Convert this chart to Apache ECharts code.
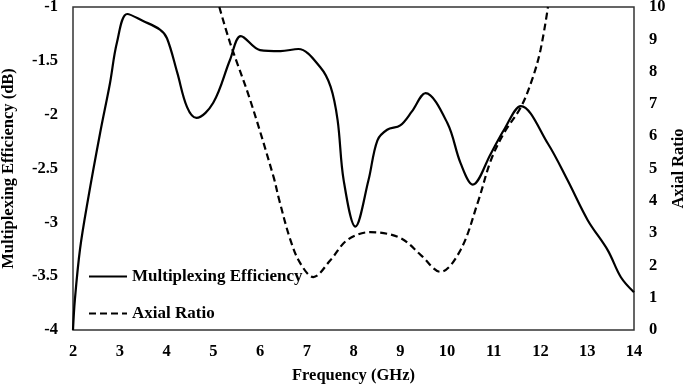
<!DOCTYPE html>
<html>
<head>
<meta charset="utf-8">
<script src="https://cdn.jsdelivr.net/npm/echarts@6/dist/echarts.min.js"></script>
<style>
  html, body { margin: 0; padding: 0; background: #fff; }
  #chart { width: 685px; height: 384px; }
</style>
</head>
<body>
<div id="chart"></div>
<script>
// 多路复用效率 (dB)
const effFreq = [2.0, 2.04, 2.15, 2.32, 2.58, 2.79, 2.94, 3.16, 3.5, 3.86, 4.01, 4.23, 4.44, 4.64, 5.0, 5.36, 5.59, 6.0, 6.44, 6.82, 7.29, 7.51, 7.66, 7.79, 8.04, 8.32, 8.51, 8.72, 9.0, 9.25, 9.54, 10.01, 10.29, 10.55, 10.94, 11.22, 11.58, 12.16, 12.58, 13.01, 13.44, 13.72, 14.0];
const effVals = [-4.0, -3.72, -3.25, -2.79, -2.17, -1.71, -1.33, -1.065, -1.13, -1.21, -1.29, -1.61, -1.93, -2.03, -1.89, -1.49, -1.27, -1.40, -1.41, -1.39, -1.56, -1.74, -2.05, -2.61, -3.04, -2.61, -2.24, -2.14, -2.10, -1.97, -1.80, -2.08, -2.45, -2.65, -2.36, -2.14, -1.92, -2.27, -2.61, -2.98, -3.26, -3.51, -3.65];

// 轴比
const arFreq = [5.13, 5.36, 5.79, 6.29, 6.41, 6.65, 6.86, 7.14, 7.51, 7.87, 8.36, 9.0, 9.44, 9.86, 10.29, 10.67, 10.94, 11.22, 11.58, 11.82, 12.0, 12.16];
const arVals = [10, 8.89, 7.12, 4.74, 4.03, 2.79, 2.07, 1.64, 2.17, 2.79, 3.03, 2.85, 2.32, 1.80, 2.48, 4.0, 5.26, 6.1, 6.9, 7.75, 8.67, 10];

const names = ['Multiplexing Efficiency', 'Axial Ratio'];

const font = 'Liberation Serif, Times New Roman, serif';
const txt = { color: '#000', fontFamily: font, fontWeight: 'bold', fontSize: 16.5 };

let chart = echarts.init(document.querySelector('#chart'));

let option = {
    animation: false,
    grid: {
        left: 73,
        right: 51,
        top: 7,
        bottom: 54,
        containLabel: false,
        outerBoundsMode: 'none',
        show: true,
        borderColor: '#333',
        borderWidth: 1.5
    },
    legend: {
        orient: 'vertical',
        left: 83,
        top: 263,
        itemWidth: 38,
        itemHeight: 14,
        itemGap: 20,
        data: names,
        // 只画线，不画圆点
        itemStyle: { opacity: 0 },
        textStyle: { color: '#000', fontFamily: font, fontWeight: 'bold', fontSize: 17 }
    },
    xAxis: {
        type: 'value',
        min: 2,
        max: 14,
        interval: 1,
        name: 'Frequency (GHz)',
        nameLocation: 'middle',
        nameGap: 37,
        nameTextStyle: txt,
        axisLine: { show: false },
        axisTick: { show: false },
        splitLine: { show: false },
        axisLabel: Object.assign({ margin: 13 }, txt)
    },
    yAxis: [
        {
            type: 'value',
            min: -4,
            max: -1,
            interval: 0.5,
            name: 'Multiplexing Efficiency (dB)',
            nameLocation: 'middle',
            nameRotate: 90,
            nameGap: 56,
            nameMoveOverlap: false,
            nameTextStyle: txt,
            axisLine: { show: false },
            axisTick: { show: false },
            splitLine: { show: false },
            axisLabel: Object.assign({ margin: 15 }, txt)
        },
        {
            type: 'value',
            position: 'right',
            min: 0,
            max: 10,
            interval: 1,
            name: 'Axial Ratio',
            nameLocation: 'middle',
            nameRotate: 90,
            nameGap: 36,
            nameMoveOverlap: false,
            nameTextStyle: txt,
            axisLine: { show: false },
            axisTick: { show: false },
            splitLine: { show: false },
            axisLabel: Object.assign({ margin: 15 }, txt)
        }
    ],
    series: [
        {
            name: names[0],
            type: 'line',
            yAxisIndex: 0,
            smooth: 0.35,
            showSymbol: false,
            symbol: 'none',
            lineStyle: { color: '#000', width: 2.2 },
            itemStyle: { color: '#000' },
            data: effFreq.map((f, i) => [f, effVals[i]])
        },
        {
            name: names[1],
            type: 'line',
            yAxisIndex: 1,
            smooth: 0.35,
            showSymbol: false,
            symbol: 'none',
            lineStyle: { color: '#000', width: 2.2, type: [7, 4] },
            itemStyle: { color: '#000' },
            data: arFreq.map((f, i) => [f, arVals[i]])
        }
    ]
};

chart.setOption(option);
</script>
</body>
</html>
